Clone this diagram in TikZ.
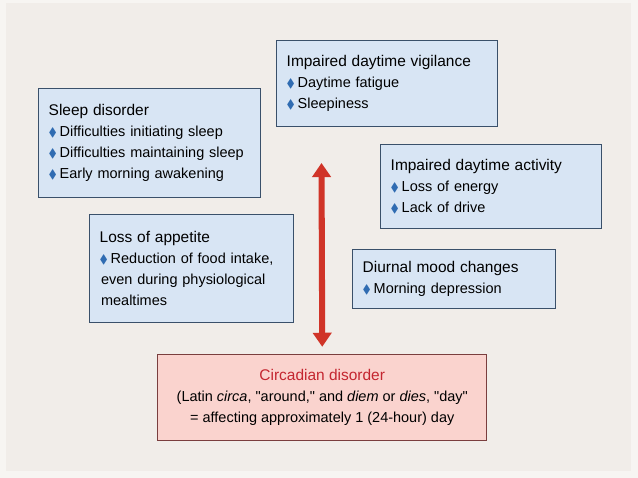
\documentclass[tikz,border=0pt]{standalone}
\usepackage{amssymb}
\usepackage{graphicx}
\usepackage{fontspec}
\setmainfont{Liberation Sans}
\usetikzlibrary{arrows.meta}

\definecolor{pagebg}{RGB}{241,237,233}
\definecolor{edgebg}{RGB}{247,245,242}
\definecolor{boxfill}{RGB}{216,229,244}
\definecolor{boxline}{RGB}{58,80,106}
\definecolor{circfill}{RGB}{250,211,206}
\definecolor{circline}{RGB}{122,62,62}
\definecolor{circred}{RGB}{196,38,48}
\definecolor{arrowred}{RGB}{208,52,40}
\definecolor{bulblue}{RGB}{48,108,178}

\newcommand{\bul}{{\color{bulblue}\scalebox{0.85}{$\blacklozenge$}}\hspace{2pt}}
\newcommand{\boxhead}[1]{{\fontsize{11}{15}\selectfont #1}}
\newcommand{\dq}{\textquotedbl}

\tikzset{
  symptom/.style={draw=boxline, fill=boxfill, line width=1pt, anchor=north west,
    align=left, inner xsep=0.25cm, inner ysep=2pt,
    font=\fontsize{10.3}{15}\selectfont},
  circbox/.style={draw=circline, fill=circfill, line width=1pt, anchor=north west,
    align=center, inner xsep=2pt, inner ysep=2pt,
    font=\fontsize{10.3}{15}\selectfont},
  updown/.style={arrowred, line width=4.3pt,
    {Triangle[length=10pt,width=13pt]}-{Triangle[length=10pt,width=13pt]}}
}

\begin{document}
\begin{tikzpicture}[x=0.025cm, y=-0.025cm]
  % page background
  \fill[edgebg] (0,0) rectangle (638,478);
  \fill[pagebg] (6,3) rectangle (631,471);

  % symptom boxes
  \node[symptom, text width=5.05cm, minimum height=2.725cm] (sleep) at (38,88)
    {\boxhead{Sleep disorder}\\
     \bul Difficulties initiating sleep\\
     \bul Difficulties maintaining sleep\\
     \bul Early morning awakening};

  \node[symptom, text width=5.025cm, minimum height=2.15cm] (vigil) at (276,40)
    {\boxhead{Impaired daytime vigilance}\\
     \bul Daytime fatigue\\
     \bul Sleepiness};

  \node[symptom, text width=5.025cm, minimum height=2.1cm] (activ) at (380,144)
    {\boxhead{Impaired daytime activity}\\
     \bul Loss of energy\\
     \bul Lack of drive};

  \node[symptom, text width=4.6cm, minimum height=2.7cm] (appet) at (89,214)
    {\boxhead{Loss of appetite}\\
     \bul Reduction of food intake,\\
     \hspace*{1pt}even during physiological\\
     \hspace*{1pt}mealtimes};

  \node[symptom, text width=4.575cm, minimum height=1.475cm] (mood) at (352,249)
    {\boxhead{Diurnal mood changes}\\
     \bul Morning depression};

  % central disorder
  \node[circbox, minimum width=8.225cm, minimum height=2.15cm] (circ) at (157,354)
    {{\color{circred}\fontsize{11}{15}\selectfont Circadian disorder}\\
     (Latin \emph{circa}, \dq around,\dq{} and \emph{diem} or \emph{dies}, \dq day\dq\\
     = affecting approximately 1 (24-hour) day};

  % double arrow
  \coordinate (armtop) at (321.5,163);
  \draw[updown] (armtop) -- ([yshift=0.18cm]circ.north);
\end{tikzpicture}
\end{document}
